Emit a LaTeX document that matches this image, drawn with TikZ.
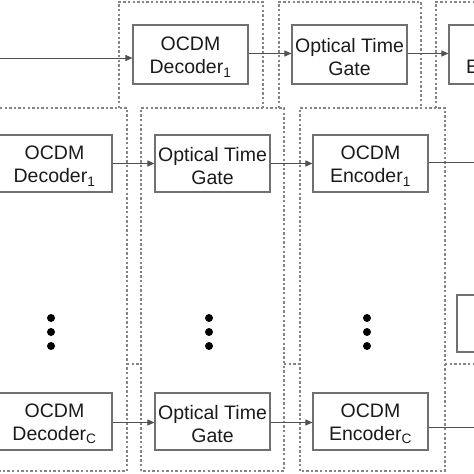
\documentclass[tikz,border=0pt]{standalone}
\usepackage{fontspec}
\setmainfont{Liberation Sans}
\usetikzlibrary{arrows.meta}
\definecolor{boxc}{HTML}{707070}
\definecolor{txtc}{HTML}{1A1A1A}
\definecolor{linec}{HTML}{505050}
\definecolor{dotc}{HTML}{858585}
\tikzset{
  blk/.style={draw=boxc, line width=1.1pt, text=txtc, minimum width=115pt, minimum height=58pt,
    align=center, inner sep=0pt, font=\fontsize{19.5}{23}\selectfont},
  arr/.style={draw=linec, line width=0.9pt, -{Triangle[length=7pt,width=6pt]}},
  wire/.style={draw=linec, line width=0.9pt},
  frm/.style={draw=dotc, line width=1.4pt, dash pattern=on 2.4pt off 2.2pt},
  dotb/.style={fill=black, circle, inner sep=0pt, minimum size=8pt}
}
\newcommand{\stru}{\rule{0pt}{19pt}}
\begin{document}
\begin{tikzpicture}[x=1pt,y=-1pt]
\useasboundingbox (0,0) rectangle (474,474);
\clip (0,0) rectangle (474,474);
% dotted frames
\draw[frm] (119,108) -- (119,2) -- (263,2) -- (263,108);
\draw[frm] (0,108) -- (127,108) -- (127,471) -- (0,471);
\draw[frm] (141,471) -- (141,108) -- (284,108) -- (284,471) -- cycle;
\draw[frm] (279,108) -- (279,2) -- (421,2) -- (421,108);
\draw[frm] (300,471) -- (300,108) -- (445,108) -- (445,471) -- cycle;
\draw[frm] (436,108) -- (436,2) -- (474,2);
\draw[frm] (445,364) -- (474,364);
\draw[frm] (127,364) -- (141,364);
\draw[frm] (284,364) -- (300,364);
% top row
\node[blk, minimum height=59pt] (decT) at (190.5,54.5) {\stru OCDM\\Decoder\textsubscript{1}};
\node[blk, minimum height=59pt] (otgT) at (349.5,54.5) {\stru Optical Time\\Gate};
\node[blk, minimum height=59pt] (encT) at (506.5,54.5) {\stru OCDM\\Encoder\textsubscript{1}};
% row 1
\node[blk, minimum height=57pt] (dec1) at (54.5,163.5) {\stru OCDM\\Decoder\textsubscript{1}};
\node[blk, minimum height=57pt] (otg1) at (212.5,163.5) {\stru Optical Time\\Gate};
\node[blk, minimum height=57pt] (enc1) at (370.5,163.5) {\stru OCDM\\Encoder\textsubscript{1}};
% row C
\node[blk, minimum height=57pt] (decC) at (54.5,421.5) {\stru OCDM\\Decoder\textsubscript{C}};
\node[blk, minimum height=57pt] (otgC) at (212.5,421.5) {\stru Optical Time\\Gate};
\node[blk, minimum height=57pt] (encC) at (370.5,421.5) {\stru OCDM\\Encoder\textsubscript{C}};
% right middle box
\node[blk, minimum height=57pt] (encR) at (514.5,323.5) {\stru OCDM\\Encoder\textsubscript{C}};
% dots
\foreach \x/\n in {51/a,209/b,367/c}{
  \node[dotb] (d1\n) at (\x,318) {};
  \node[dotb] (d2\n) at (\x,332) {};
  \node[dotb] (d3\n) at (\x,346) {};
}
% connectors
\coordinate (inT) at (0,58);
\draw[arr] (inT) -- (inT -| decT.west);
\draw[arr] ([yshift=1pt]decT.east) -- ([yshift=1pt]otgT.west);
\draw[arr] ([yshift=1pt]otgT.east) -- ([yshift=1pt]encT.west);
\draw[arr] (dec1.east) -- (otg1.west);
\draw[arr] (otg1.east) -- (enc1.west);
\coordinate (out1) at (474,162.5);
\draw[wire] (enc1.east |- out1) -- (out1);
\draw[arr] ([yshift=-1pt]decC.east) -- ([yshift=-1pt]otgC.west);
\draw[arr] ([yshift=-1pt]otgC.east) -- ([yshift=-1pt]encC.west);
\coordinate (outC) at (474,427);
\draw[wire] (encC.east |- outC) -- (outC);
\end{tikzpicture}
\end{document}
